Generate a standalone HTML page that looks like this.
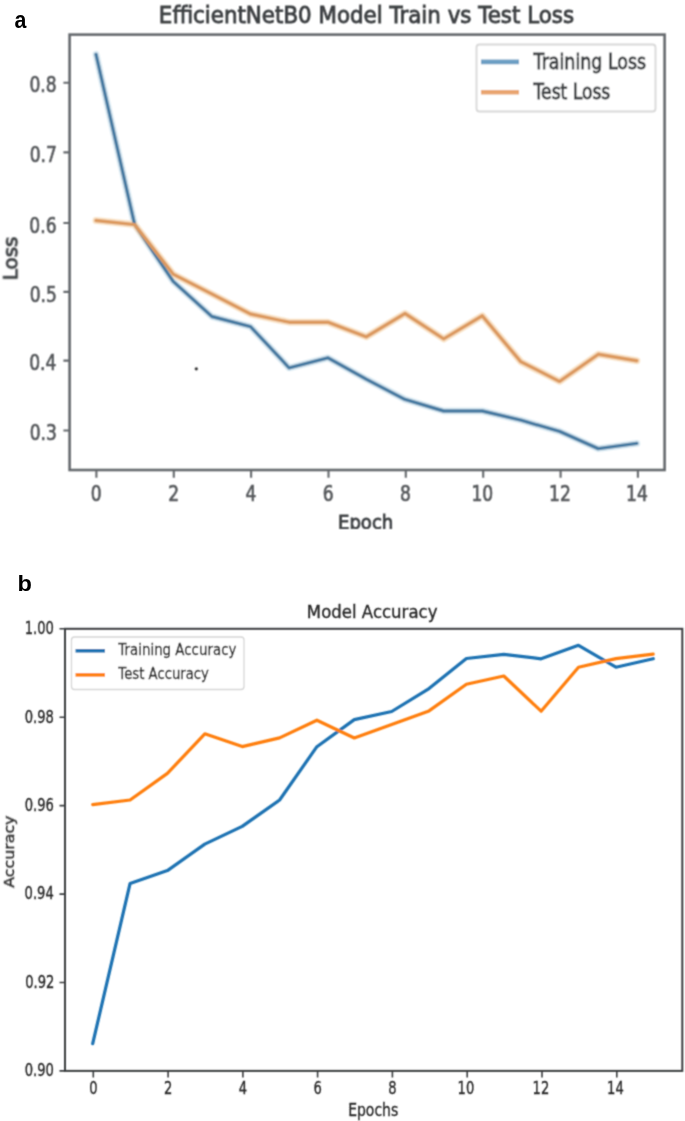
<!DOCTYPE html><html><head><meta charset="utf-8"><title>EfficientNetB0 Loss and Model Accuracy</title><style>
html,body{margin:0;padding:0;background:#fff;width:685px;height:1121px;overflow:hidden}
svg{display:block}
.t{font-family:'DejaVu Sans', 'Liberation Sans', sans-serif}
#pa .t{stroke:#3d4043;stroke-width:0.9px}
#pb .t{stroke:#262626;stroke-width:0.35px}
.lab{font-family:'Liberation Sans',Arial,sans-serif;font-weight:bold;fill:#000}
</style></head><body>
<svg width="685" height="1121" viewBox="0 0 685 1121">
<defs><filter id="blA" filterUnits="userSpaceOnUse" x="0" y="0" width="685" height="560"><feConvolveMatrix order="3" kernelMatrix="1 2 1 2 4 2 1 2 1" divisor="16" edgeMode="duplicate"/></filter><filter id="blB" filterUnits="userSpaceOnUse" x="0" y="560" width="685" height="561"><feConvolveMatrix order="3" kernelMatrix="1 3 1 3 9 3 1 3 1" divisor="25" edgeMode="duplicate"/></filter><clipPath id="cpa"><rect x="0" y="0" width="685" height="528.6"/></clipPath></defs>
<rect width="685" height="1121" fill="#fff"/>
<text class="lab" x="14.6" y="27.9" font-size="23.5" textLength="11.9" lengthAdjust="spacingAndGlyphs">a</text>
<g id="pa" filter="url(#blA)">
<text class="t" x="158.86" y="23.30" font-size="23.6" fill="#3d4043" textLength="415.25" lengthAdjust="spacingAndGlyphs">EfficientNetB0 Model Train vs Test Loss</text>
<path d="M63.4 430.5H69.6 M63.4 360.6H69.6 M63.4 291.9H69.6 M63.4 223.0H69.6 M63.4 152.4H69.6 M63.4 82.8H69.6 M96.4 470.0V477.8 M173.8 470.0V477.8 M251.1 470.0V477.8 M328.5 470.0V477.8 M405.8 470.0V477.8 M483.2 470.0V477.8 M560.6 470.0V477.8 M637.9 470.0V477.8" stroke="#65696d" stroke-width="2.1" fill="none"/>
<text class="t" x="29.66" y="440.10" font-size="21.3" fill="#55585b" textLength="27.22" lengthAdjust="spacingAndGlyphs" style="stroke:#55585b;stroke-width:0.7px">0.3</text>
<text class="t" x="29.23" y="370.20" font-size="21.3" fill="#55585b" textLength="27.22" lengthAdjust="spacingAndGlyphs" style="stroke:#55585b;stroke-width:0.7px">0.4</text>
<text class="t" x="29.74" y="301.50" font-size="21.3" fill="#55585b" textLength="27.22" lengthAdjust="spacingAndGlyphs" style="stroke:#55585b;stroke-width:0.7px">0.5</text>
<text class="t" x="29.32" y="232.60" font-size="21.3" fill="#55585b" textLength="27.22" lengthAdjust="spacingAndGlyphs" style="stroke:#55585b;stroke-width:0.7px">0.6</text>
<text class="t" x="29.74" y="162.00" font-size="21.3" fill="#55585b" textLength="27.22" lengthAdjust="spacingAndGlyphs" style="stroke:#55585b;stroke-width:0.7px">0.7</text>
<text class="t" x="29.40" y="92.40" font-size="21.3" fill="#55585b" textLength="27.22" lengthAdjust="spacingAndGlyphs" style="stroke:#55585b;stroke-width:0.7px">0.8</text>
<text class="t" x="90.67" y="500.80" font-size="20.8" fill="#55585b" textLength="10.89" lengthAdjust="spacingAndGlyphs" style="stroke:#55585b;stroke-width:0.7px">0</text>
<text class="t" x="168.24" y="500.80" font-size="20.8" fill="#55585b" textLength="10.89" lengthAdjust="spacingAndGlyphs" style="stroke:#55585b;stroke-width:0.7px">2</text>
<text class="t" x="245.43" y="500.80" font-size="20.8" fill="#55585b" textLength="10.89" lengthAdjust="spacingAndGlyphs" style="stroke:#55585b;stroke-width:0.7px">4</text>
<text class="t" x="322.66" y="500.80" font-size="20.8" fill="#55585b" textLength="10.89" lengthAdjust="spacingAndGlyphs" style="stroke:#55585b;stroke-width:0.7px">6</text>
<text class="t" x="400.06" y="500.80" font-size="20.8" fill="#55585b" textLength="10.89" lengthAdjust="spacingAndGlyphs" style="stroke:#55585b;stroke-width:0.7px">8</text>
<text class="t" x="471.45" y="500.80" font-size="20.8" fill="#55585b" textLength="21.78" lengthAdjust="spacingAndGlyphs" style="stroke:#55585b;stroke-width:0.7px">10</text>
<text class="t" x="549.11" y="500.80" font-size="20.8" fill="#55585b" textLength="21.78" lengthAdjust="spacingAndGlyphs" style="stroke:#55585b;stroke-width:0.7px">12</text>
<text class="t" x="626.08" y="500.80" font-size="20.8" fill="#55585b" textLength="21.78" lengthAdjust="spacingAndGlyphs" style="stroke:#55585b;stroke-width:0.7px">14</text>
<g clip-path="url(#cpa)">
<text class="t" x="337.99" y="528.80" font-size="20.1" fill="#3d4043" textLength="55.29" lengthAdjust="spacingAndGlyphs">Epoch</text>
</g>
<text class="t" transform="translate(17.30,278.30) rotate(-90)" x="-2.00" y="0" font-size="19.8" fill="#3d4043" textLength="43.76" lengthAdjust="spacingAndGlyphs">Loss</text>
<polyline points="96.0,54.4 134.6,224.4 173.3,281.5 211.9,316.5 250.5,326.6 289.1,367.8 327.8,357.8 366.4,379.2 405.0,399.4 443.7,411.0 482.3,411.0 520.9,420.2 559.6,431.4 598.2,448.6 636.8,443.4" fill="none" stroke="#d9e9f2" stroke-width="7" stroke-linejoin="round" stroke-linecap="round"/>
<polyline points="96.0,220.5 134.6,224.6 173.3,274.3 211.9,294.0 250.5,314.0 289.1,322.2 327.8,322.2 366.4,336.8 405.0,313.5 443.7,338.9 482.3,315.8 520.9,361.8 559.6,381.4 598.2,354.3 636.8,360.7" fill="none" stroke="#f9e3c8" stroke-width="7" stroke-linejoin="round" stroke-linecap="round"/>
<polyline points="96.0,54.4 134.6,224.4 173.3,281.5 211.9,316.5 250.5,326.6 289.1,367.8 327.8,357.8 366.4,379.2 405.0,399.4 443.7,411.0 482.3,411.0 520.9,420.2 559.6,431.4 598.2,448.6 636.8,443.4" fill="none" stroke="#4a7ba2" stroke-width="3.4" stroke-linejoin="round" stroke-linecap="round"/>
<polyline points="96.0,220.5 134.6,224.6 173.3,274.3 211.9,294.0 250.5,314.0 289.1,322.2 327.8,322.2 366.4,336.8 405.0,313.5 443.7,338.9 482.3,315.8 520.9,361.8 559.6,381.4 598.2,354.3 636.8,360.7" fill="none" stroke="#dc9a60" stroke-width="3.4" stroke-linejoin="round" stroke-linecap="round"/>
<circle cx="196.3" cy="368.8" r="1.6" fill="#333"/>
<rect x="69.6" y="34.6" width="595.0" height="435.4" fill="none" stroke="#65696d" stroke-width="2.6"/>
<rect x="476.5" y="44.5" width="179" height="67" rx="3" fill="#fff" fill-opacity="0.8" stroke="#d8d8d8" stroke-width="1.8"/>
<path d="M481 61.9H519" stroke="#6d9fc4" stroke-width="4.6"/>
<path d="M481 92.3H519" stroke="#e9a570" stroke-width="4.6"/>
<text class="t" x="533.59" y="68.80" font-size="20.7" fill="#3d4043" textLength="112.62" lengthAdjust="spacingAndGlyphs">Training Loss</text>
<text class="t" x="533.59" y="99.20" font-size="20.9" fill="#3d4043" textLength="76.68" lengthAdjust="spacingAndGlyphs">Test Loss</text>
</g>
<text class="lab" x="17.4" y="591.3" font-size="22.8" textLength="14.4" lengthAdjust="spacingAndGlyphs">b</text>
<g id="pb" filter="url(#blB)">
<text class="t" x="306.84" y="618.00" font-size="18.5" fill="#262626" textLength="130.67" lengthAdjust="spacingAndGlyphs">Model Accuracy</text>
<path d="M59.5 1070.9H65.0 M59.5 982.5H65.0 M59.5 894.1H65.0 M59.5 805.6H65.0 M59.5 717.2H65.0 M59.5 628.8H65.0 M93.3 1070.9V1077.5 M168.1 1070.9V1077.5 M242.9 1070.9V1077.5 M317.6 1070.9V1077.5 M392.4 1070.9V1077.5 M467.2 1070.9V1077.5 M542.0 1070.9V1077.5 M616.8 1070.9V1077.5" stroke="#3b3d3f" stroke-width="1.6" fill="none"/>
<text class="t" x="24.70" y="1076.20" font-size="16.8" fill="#262626" textLength="29.18" lengthAdjust="spacingAndGlyphs">0.90</text>
<text class="t" x="25.15" y="987.78" font-size="16.8" fill="#262626" textLength="29.18" lengthAdjust="spacingAndGlyphs">0.92</text>
<text class="t" x="24.56" y="899.36" font-size="16.8" fill="#262626" textLength="29.18" lengthAdjust="spacingAndGlyphs">0.94</text>
<text class="t" x="24.63" y="810.94" font-size="16.8" fill="#262626" textLength="29.18" lengthAdjust="spacingAndGlyphs">0.96</text>
<text class="t" x="24.70" y="722.52" font-size="16.8" fill="#262626" textLength="29.18" lengthAdjust="spacingAndGlyphs">0.98</text>
<text class="t" x="24.70" y="634.10" font-size="16.8" fill="#262626" textLength="29.18" lengthAdjust="spacingAndGlyphs">1.00</text>
<text class="t" x="89.14" y="1093.60" font-size="16.8" fill="#262626" textLength="8.34" lengthAdjust="spacingAndGlyphs">0</text>
<text class="t" x="164.08" y="1093.60" font-size="16.8" fill="#262626" textLength="8.34" lengthAdjust="spacingAndGlyphs">2</text>
<text class="t" x="238.73" y="1093.60" font-size="16.8" fill="#262626" textLength="8.34" lengthAdjust="spacingAndGlyphs">4</text>
<text class="t" x="313.41" y="1093.60" font-size="16.8" fill="#262626" textLength="8.34" lengthAdjust="spacingAndGlyphs">6</text>
<text class="t" x="388.23" y="1093.60" font-size="16.8" fill="#262626" textLength="8.34" lengthAdjust="spacingAndGlyphs">8</text>
<text class="t" x="457.58" y="1093.60" font-size="16.8" fill="#262626" textLength="16.67" lengthAdjust="spacingAndGlyphs">10</text>
<text class="t" x="532.59" y="1093.60" font-size="16.8" fill="#262626" textLength="16.67" lengthAdjust="spacingAndGlyphs">12</text>
<text class="t" x="607.08" y="1093.60" font-size="16.8" fill="#262626" textLength="16.67" lengthAdjust="spacingAndGlyphs">14</text>
<text class="t" x="348.20" y="1115.70" font-size="16.8" fill="#262626" textLength="50.04" lengthAdjust="spacingAndGlyphs">Epochs</text>
<text class="t" transform="translate(14.00,887.50) rotate(-90)" x="-0.16" y="0" font-size="14.6" fill="#262626" textLength="72.14" lengthAdjust="spacingAndGlyphs">Accuracy</text>
<polyline points="92.7,1043.6 130.1,883.4 167.4,870.6 204.8,844.1 242.2,826.4 279.6,800.0 316.9,746.7 354.3,719.6 391.7,711.5 429.0,688.6 466.4,658.5 503.8,654.3 541.1,658.8 578.5,645.3 615.9,667.2 653.2,658.7" fill="none" stroke="#1c72b2" stroke-width="3.2" stroke-linejoin="round" stroke-linecap="round"/>
<polyline points="92.7,804.6 130.1,800.0 167.4,773.4 204.8,733.8 242.2,746.6 279.6,737.9 316.9,720.2 354.3,738.0 391.7,724.6 429.0,710.9 466.4,684.3 503.8,676.0 541.1,711.2 578.5,667.2 615.9,658.6 653.2,654.1" fill="none" stroke="#ff7f0e" stroke-width="3.2" stroke-linejoin="round" stroke-linecap="round"/>
<rect x="65.0" y="628.8" width="617.3" height="442.1" fill="none" stroke="#3b3d3f" stroke-width="2"/>
<rect x="71.5" y="637" width="172.5" height="52.5" rx="3" fill="#fff" fill-opacity="0.8" stroke="#d6d6d6" stroke-width="1.3"/>
<path d="M75.5 650.8H105" stroke="#1c72b2" stroke-width="3.6"/>
<path d="M75.5 674.9H105" stroke="#ff7f0e" stroke-width="3.6"/>
<text class="t" x="118.37" y="654.90" font-size="16.2" fill="#262626" textLength="118.03" lengthAdjust="spacingAndGlyphs">Training Accuracy</text>
<text class="t" x="118.37" y="679.00" font-size="16.2" fill="#262626" textLength="90.57" lengthAdjust="spacingAndGlyphs">Test Accuracy</text>
</g>
</svg></body></html>
